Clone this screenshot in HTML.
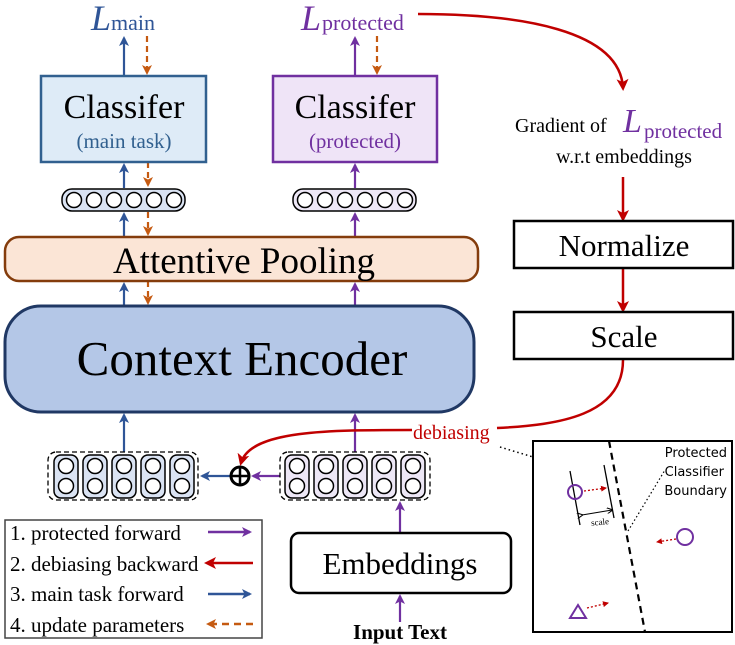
<!DOCTYPE html>
<html><head><meta charset="utf-8"><style>body{margin:0;background:#fff}svg{display:block}text{font-family:"Liberation Serif",serif}</style></head><body>
<svg width="735" height="645" viewBox="0 0 735 645" xmlns="http://www.w3.org/2000/svg">
<defs>
<marker id="ab" markerWidth="10" markerHeight="10" refX="8" refY="5" orient="auto" markerUnits="userSpaceOnUse"><path d="M0,0L10,5L0,10L2.5,5z" fill="#2f5597"/></marker>
<marker id="ap" markerWidth="10" markerHeight="10" refX="8" refY="5" orient="auto" markerUnits="userSpaceOnUse"><path d="M0,0L10,5L0,10L2.5,5z" fill="#7030a0"/></marker>
<marker id="ao" markerWidth="10" markerHeight="10" refX="8" refY="5" orient="auto" markerUnits="userSpaceOnUse"><path d="M0,0L10,5L0,10L2.5,5z" fill="#c55a11"/></marker>
<marker id="ar" markerWidth="12" markerHeight="12" refX="9" refY="6" orient="auto" markerUnits="userSpaceOnUse"><path d="M0,0L12,6L0,12L3,6z" fill="#c00000"/></marker>
<marker id="ak" markerWidth="6" markerHeight="6" refX="5" refY="3" orient="auto" markerUnits="userSpaceOnUse"><path d="M0,0L6,3L0,6" fill="none" stroke="#000" stroke-width="1"/></marker>
<marker id="ars" markerWidth="6" markerHeight="6" refX="5" refY="3" orient="auto" markerUnits="userSpaceOnUse"><path d="M0,0L6,3L0,6z" fill="#c00000"/></marker>
</defs>
<text x="91" y="30" font-size="36" font-style="italic" fill="#2f5597">L</text><text x="111" y="30" font-size="22" fill="#2f5597">main</text>
<text x="301" y="30" font-size="36" font-style="italic" fill="#7030a0">L</text><text x="322" y="30" font-size="22" fill="#7030a0">protected</text>
<g stroke-width="2.2" fill="none">
<line x1="124" y1="76" x2="124" y2="38" stroke="#2f5597" marker-end="url(#ab)"/>
<line x1="147" y1="36" x2="147" y2="73" stroke="#c55a11" stroke-dasharray="6,4" marker-end="url(#ao)"/>
<line x1="355" y1="76" x2="355" y2="38" stroke="#7030a0" marker-end="url(#ap)"/>
<line x1="377" y1="36" x2="377" y2="73" stroke="#c55a11" stroke-dasharray="6,4" marker-end="url(#ao)"/>
<line x1="124" y1="188" x2="124" y2="165" stroke="#2f5597" marker-end="url(#ab)"/>
<line x1="148" y1="162" x2="148" y2="185" stroke="#c55a11" stroke-dasharray="6,4" marker-end="url(#ao)"/>
<line x1="355" y1="188" x2="355" y2="165" stroke="#7030a0" marker-end="url(#ap)"/>
<line x1="124" y1="237" x2="124" y2="214" stroke="#2f5597" marker-end="url(#ab)"/>
<line x1="148" y1="212" x2="148" y2="234" stroke="#c55a11" stroke-dasharray="6,4" marker-end="url(#ao)"/>
<line x1="355" y1="237" x2="355" y2="214" stroke="#7030a0" marker-end="url(#ap)"/>
<line x1="124" y1="306" x2="124" y2="284" stroke="#2f5597" marker-end="url(#ab)"/>
<line x1="148" y1="281" x2="148" y2="303" stroke="#c55a11" stroke-dasharray="6,4" marker-end="url(#ao)"/>
<line x1="355" y1="306" x2="355" y2="284" stroke="#7030a0" marker-end="url(#ap)"/>
<line x1="124" y1="452" x2="124" y2="415" stroke="#2f5597" marker-end="url(#ab)"/>
<line x1="355" y1="452" x2="355" y2="415" stroke="#7030a0" marker-end="url(#ap)"/>
<line x1="400" y1="533" x2="400" y2="503" stroke="#7030a0" marker-end="url(#ap)"/>
<line x1="400" y1="622" x2="400" y2="596" stroke="#7030a0" marker-end="url(#ap)"/>
<line x1="280" y1="476" x2="253" y2="476" stroke="#7030a0" marker-end="url(#ap)"/>
<line x1="230" y1="476" x2="202" y2="476" stroke="#2f5597" marker-end="url(#ab)"/>
</g>
<rect x="41" y="76" width="165" height="86" fill="#deebf7" stroke="#31608f" stroke-width="2.5"/>
<text x="124" y="118" font-size="34" text-anchor="middle">Classifer</text>
<text x="124" y="148" font-size="21" text-anchor="middle" fill="#31608f">(main task)</text>
<rect x="273" y="76" width="164" height="86" fill="#efe4f7" stroke="#7030a0" stroke-width="2.5"/>
<text x="355" y="118" font-size="34" text-anchor="middle">Classifer</text>
<text x="355" y="148" font-size="21" text-anchor="middle" fill="#7030a0">(protected)</text>
<rect x="62" y="189" width="123" height="22" rx="10" fill="#dae3f3" stroke="#000" stroke-width="1.5"/>
<rect x="293" y="189" width="123" height="22" rx="10" fill="#ede7f6" stroke="#000" stroke-width="1.5"/>
<g fill="#fff" stroke="#000" stroke-width="1.5">
<circle cx="74" cy="200" r="7.5"/><circle cx="94" cy="200" r="7.5"/><circle cx="114" cy="200" r="7.5"/><circle cx="134" cy="200" r="7.5"/><circle cx="154" cy="200" r="7.5"/><circle cx="174" cy="200" r="7.5"/>
<circle cx="305" cy="200" r="7.5"/><circle cx="325" cy="200" r="7.5"/><circle cx="345" cy="200" r="7.5"/><circle cx="365" cy="200" r="7.5"/><circle cx="385" cy="200" r="7.5"/><circle cx="405" cy="200" r="7.5"/>
</g>
<rect x="5" y="237" width="473" height="44" rx="14" fill="#fbe5d6" stroke="#843c0c" stroke-width="2.5"/>
<text x="244" y="273" font-size="37" text-anchor="middle">Attentive Pooling</text>
<rect x="5" y="306" width="469" height="106" rx="36" fill="#b4c7e7" stroke="#203864" stroke-width="3"/>
<text x="242" y="375" font-size="49" text-anchor="middle">Context Encoder</text>
<rect x="48" y="452" width="150" height="48" rx="8" fill="none" stroke="#000" stroke-width="1.3" stroke-dasharray="5,3"/>
<rect x="280" y="452" width="150" height="48" rx="8" fill="none" stroke="#000" stroke-width="1.3" stroke-dasharray="5,3"/>
<g stroke="#000" stroke-width="1.5">
<g fill="#dae3f3"><rect x="54" y="455" width="24" height="43" rx="7"/><rect x="83" y="455" width="24" height="43" rx="7"/><rect x="112" y="455" width="24" height="43" rx="7"/><rect x="141" y="455" width="24" height="43" rx="7"/><rect x="170" y="455" width="24" height="43" rx="7"/></g>
<g fill="#ede7f6"><rect x="285" y="455" width="24" height="43" rx="7"/><rect x="314" y="455" width="24" height="43" rx="7"/><rect x="343" y="455" width="24" height="43" rx="7"/><rect x="372" y="455" width="24" height="43" rx="7"/><rect x="401" y="455" width="24" height="43" rx="7"/></g>
<g fill="#fff">
<circle cx="66" cy="466" r="7.5"/><circle cx="66" cy="486" r="7.5"/><circle cx="95" cy="466" r="7.5"/><circle cx="95" cy="486" r="7.5"/><circle cx="124" cy="466" r="7.5"/><circle cx="124" cy="486" r="7.5"/><circle cx="153" cy="466" r="7.5"/><circle cx="153" cy="486" r="7.5"/><circle cx="182" cy="466" r="7.5"/><circle cx="182" cy="486" r="7.5"/>
<circle cx="297" cy="466" r="7.5"/><circle cx="297" cy="486" r="7.5"/><circle cx="326" cy="466" r="7.5"/><circle cx="326" cy="486" r="7.5"/><circle cx="355" cy="466" r="7.5"/><circle cx="355" cy="486" r="7.5"/><circle cx="384" cy="466" r="7.5"/><circle cx="384" cy="486" r="7.5"/><circle cx="413" cy="466" r="7.5"/><circle cx="413" cy="486" r="7.5"/>
</g></g>
<circle cx="240" cy="476" r="9" fill="#fff" stroke="#000" stroke-width="3"/>
<line x1="231" y1="476" x2="249" y2="476" stroke="#000" stroke-width="2.5"/><line x1="240" y1="467" x2="240" y2="485" stroke="#000" stroke-width="2.5"/>
<g fill="none" stroke="#c00000" stroke-width="2.5">
<path d="M418,14 C520,14 620,30 623,88" marker-end="url(#ar)"/>
<line x1="623" y1="177" x2="623" y2="219" marker-end="url(#ar)"/>
<line x1="623" y1="268" x2="623" y2="310" marker-end="url(#ar)"/>
<path d="M623,360 C623,415 560,425 497,428"/>
<path d="M412,430 C330,430 250,430 241,463" marker-end="url(#ar)"/>
</g>
<text x="413" y="439" font-size="20" fill="#c00000">debiasing</text>
<text x="515" y="132" font-size="20">Gradient of</text>
<text x="623" y="132" font-size="34" font-style="italic" fill="#7030a0">L</text><text x="644" y="138" font-size="21" fill="#7030a0">protected</text>
<text x="624" y="163" font-size="20" text-anchor="middle">w.r.t embeddings</text>
<rect x="514" y="221" width="219" height="47" fill="#fff" stroke="#000" stroke-width="2.5"/>
<text x="624" y="256" font-size="31" text-anchor="middle">Normalize</text>
<rect x="514" y="312" width="219" height="47" fill="#fff" stroke="#000" stroke-width="2.5"/>
<text x="624" y="347" font-size="31" text-anchor="middle">Scale</text>
<rect x="291" y="533" width="220" height="60" rx="8" fill="#fff" stroke="#000" stroke-width="2.5"/>
<text x="400" y="574" font-size="31" text-anchor="middle">Embeddings</text>
<text x="400" y="639" font-size="21" font-weight="bold" text-anchor="middle">Input Text</text>
<rect x="5" y="520" width="257" height="118" fill="#fff" stroke="#444" stroke-width="1.5"/>
<g font-size="21"><text x="10" y="540">1. protected forward</text><text x="10" y="571">2. debiasing backward</text><text x="10" y="601">3. main task forward</text><text x="10" y="632">4. update parameters</text></g>
<g stroke-width="2.5" fill="none">
<line x1="208" y1="532" x2="250" y2="532" stroke="#7030a0" marker-end="url(#ap)"/>
<line x1="253" y1="563" x2="207" y2="563" stroke="#c00000" marker-end="url(#ar)"/>
<line x1="208" y1="594" x2="250" y2="594" stroke="#2f5597" marker-end="url(#ab)"/>
<line x1="253" y1="624" x2="208" y2="624" stroke="#c55a11" stroke-dasharray="7,5" marker-end="url(#ao)"/>
</g>
<line x1="500" y1="447" x2="533" y2="457" stroke="#000" stroke-width="1.5" stroke-dasharray="1.5,3"/>
<rect x="533" y="441" width="199" height="191" fill="#fff" stroke="#000" stroke-width="2"/>
<line x1="609" y1="441" x2="645" y2="632" stroke="#000" stroke-width="2.2" stroke-dasharray="7,5"/>
<line x1="628" y1="531" x2="665" y2="470" stroke="#000" stroke-width="1.2" stroke-dasharray="1.5,2.5"/>
<g font-size="13" text-anchor="end"><text x="727" y="457" style="font-family:'DejaVu Sans',sans-serif">Protected</text><text x="724" y="476" style="font-family:'DejaVu Sans',sans-serif">Classifier</text><text x="727" y="495" style="font-family:'DejaVu Sans',sans-serif">Boundary</text></g>
<line x1="570" y1="471" x2="580" y2="525" stroke="#000" stroke-width="1.3"/>
<line x1="604" y1="465" x2="614" y2="518" stroke="#000" stroke-width="1.3"/>
<line x1="582" y1="515" x2="612" y2="510" stroke="#000" stroke-width="1" marker-end="url(#ak)" marker-start="url(#ak)"/>
<text x="600" y="525" font-size="9" text-anchor="middle" transform="rotate(-6 600 522)">scale</text>
<g fill="none" stroke="#7030a0" stroke-width="2"><circle cx="575" cy="492" r="7"/><circle cx="685" cy="537" r="8"/><path d="M578,605 L586,618 L570,618z"/></g>
<g stroke="#c00000" stroke-width="1.3" stroke-dasharray="2,2" fill="none">
<line x1="584" y1="491" x2="606" y2="488" marker-end="url(#ars)"/>
<line x1="676" y1="539" x2="657" y2="542" marker-end="url(#ars)"/>
<line x1="587" y1="608" x2="608" y2="603" marker-end="url(#ars)"/>
</g>
</svg>
</body></html>
